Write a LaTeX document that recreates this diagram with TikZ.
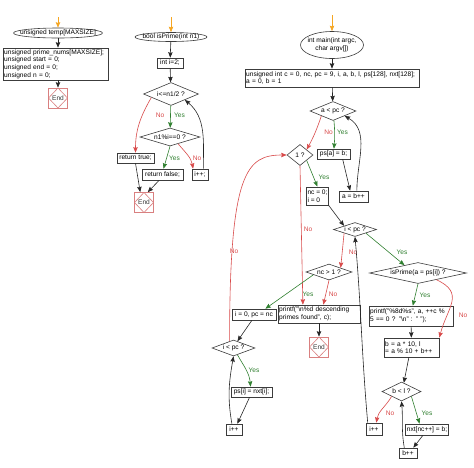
\documentclass[tikz,border=0pt]{standalone}
\usepackage{fontspec}
\setmainfont{Liberation Sans}
\usetikzlibrary{arrows.meta,shapes.geometric}
\definecolor{startor}{HTML}{F5A623}
\definecolor{edgegray}{HTML}{3C3C3C}
\definecolor{yesgreen}{HTML}{2F7F2F}
\definecolor{nored}{HTML}{D84A4A}
\definecolor{endred}{HTML}{D98080}
\newcommand{\flowfont}{\fontsize{6.6}{7.7}\selectfont}
\newcommand{\elltext}[1]{\makebox[0pt]{#1}}
\tikzset{
  procbox/.style={draw=edgegray, line width=0.6pt, fill=white, inner sep=1.2pt,
                  align=left, font=\flowfont, text=black},
  decbox/.style={diamond, draw=edgegray, line width=0.6pt, fill=white, aspect=3,
                 inner sep=0pt, font=\flowfont, text=black},
  startell/.style={ellipse, draw=edgegray, line width=0.6pt, fill=white,
                   inner sep=0pt, font=\flowfont, text=black},
  endbox/.style={draw=endred, line width=0.6pt, fill=white, minimum width=19pt,
                 minimum height=20pt, inner sep=0pt, font=\flowfont, text=black!80,
                 path picture={\draw[endred, line width=0.6pt]
                   (path picture bounding box.north) -- (path picture bounding box.east)
                   -- (path picture bounding box.south) -- (path picture bounding box.west) -- cycle;}},
  ylab/.style={font=\flowfont, text=yesgreen, inner sep=0.5pt},
  nlab/.style={font=\flowfont, text=nored, inner sep=0.5pt},
  arr/.style={-{Stealth[length=5.5pt,width=4.4pt,inset=0.8pt]}, line width=0.6pt, color=black!85},
  yarr/.style={arr, color=yesgreen},
  narr/.style={arr, color=nored},
  oarr/.style={arr, color=startor}}
\begin{document}
\begin{tikzpicture}[x=1pt, y=-1pt]
  \useasboundingbox (0,0) rectangle (474,467);
  \coordinate (s1) at (58,17);
  \node[startell, minimum width=89pt, minimum height=10pt] (e1) at (58,33) {\elltext{unsigned temp[MAXSIZE]}};
  \node[procbox, text width=102.6pt, minimum height=32pt] (b1) at (55.5,64)
    {unsigned prime\_nums[MAXSIZE];\\unsigned start = 0;\\unsigned end = 0;\\unsigned n = 0;};
  \node[endbox] (end1) at (58,98) {End};

  \coordinate (s2) at (171,17);
  \node[startell, minimum width=72pt, minimum height=9pt] (e2) at (171,37) {\elltext{bool isPrime(int n1)}};
  \node[procbox, minimum width=26pt, minimum height=10pt] (b2) at (170,63) {int i=2;};
  \node[decbox, minimum width=55pt, minimum height=23pt] (d1) at (171,94) {i<=n1/2 ?};
  \node[decbox, minimum width=60pt, minimum height=18pt] (d2) at (170,137) {n1\%i==0 ?};
  \node[procbox, minimum width=37pt, minimum height=10pt] (r1) at (135.5,158) {return true;};
  \node[procbox, minimum width=41pt, minimum height=11pt] (r2) at (162.5,174.5) {return false;};
  \node[procbox, minimum width=16pt, minimum height=11pt] (inc1) at (200,174.5) {i++;};
  \node[endbox] (end2) at (144,202.5) {End};

  \coordinate (s3) at (332,15);
  \node[startell, minimum width=63pt, minimum height=27pt] (e3) at (332,45)
    {\elltext{\begin{tabular}{@{}c@{}}int main(int argc,\\char argv[])\end{tabular}}};
  \node[procbox, text width=171.6pt, minimum height=18pt] (b3) at (332,78)
    {unsigned int c = 0, nc, pc = 9, i, a, b, l, ps[128], nxt[128];\\a = 0, b = 1};
  \node[decbox, minimum width=46pt, minimum height=19pt] (d3) at (333,111) {a < pc ?};
  \node[procbox, minimum width=33pt, minimum height=10pt] (b4) at (333.5,154) {ps[a] = b;};
  \node[procbox, minimum width=29pt, minimum height=11pt] (b5) at (353.5,196.5) {a = b++};
  \node[decbox, minimum width=26pt, minimum height=21pt] (d4) at (300,155) {1 ?};
  \node[procbox, inner xsep=0.8pt, minimum height=18pt] (b6) at (317.5,196) {nc = 0;\\i = 0};
  \node[decbox, minimum width=43pt, minimum height=14pt] (d5) at (355,229.5) {i < pc ?};
  \node[decbox, minimum width=46pt, minimum height=16pt] (d6) at (329,272) {nc > 1 ?};
  \node[procbox, text width=79.6pt, minimum height=18pt] (b7) at (319,314)
    {printf("\textbackslash n\%d descending\\primes found", c);};
  \node[endbox] (end3) at (319,347) {End};
  \node[procbox, minimum width=44pt, minimum height=11pt] (b8) at (254,314.5) {i = 0, pc = nc};
  \node[decbox, minimum width=43pt, minimum height=16pt] (d7) at (233.5,348) {i < pc ?};
  \node[procbox, minimum width=41pt, minimum height=10pt] (b9) at (251.5,392) {ps[i] = nxt[i];};
  \node[procbox, minimum width=16pt, minimum height=11pt] (b10) at (234,429.5) {i++};
  \node[decbox, aspect=5, minimum width=97pt, minimum height=21pt] (d8) at (418,273) {isPrime(a = ps[i]) ?};
  \node[procbox, text width=81.6pt, minimum height=20pt] (b11) at (411,316)
    {printf("\%8d\%s", a, ++c \%\\5 == 0 ? "\textbackslash n" : " ");};
  \node[procbox, text width=52.6pt, minimum height=19pt] (b12) at (411.5,347.5)
    {b = a * 10, l\\= a \% 10 + b++};
  \node[decbox, minimum width=39pt, minimum height=19pt] (d9) at (401.5,391.5) {b < l ?};
  \node[procbox, minimum width=16pt, minimum height=12pt] (b13) at (374,429) {i++};
  \node[procbox, minimum width=42pt, minimum height=11pt] (b14) at (427,429.5) {nxt[nc++] = b;};
  \node[procbox, minimum width=18pt, minimum height=10pt] (b15) at (408,453) {b++};

  \node[nlab] (no1) at (160,115) {No};
  \node[ylab] (yes1) at (179.5,115) {Yes};
  \node[ylab] (yes2) at (174.5,158) {Yes};
  \node[nlab] (no2) at (197,158) {No};
  \node[nlab] (no3) at (328.5,132) {No};
  \node[ylab] (yes3) at (342.5,132) {Yes};
  \node[ylab] (yes4) at (324,177) {Yes};
  \node[nlab] (no4) at (308,229) {No};
  \node[nlab] (no5) at (353,252) {No};
  \node[ylab] (yes5) at (402,252) {Yes};
  \node[ylab] (yes6) at (308,294) {Yes};
  \node[nlab] (no6) at (333,294) {No};
  \node[nlab] (no7) at (234,251) {No};
  \node[ylab] (yes7) at (254,370) {Yes};
  \node[ylab] (yes8) at (425,295) {Yes};
  \node[nlab] (no8) at (463,315) {No};
  \node[nlab] (no9) at (390,413) {No};
  \node[ylab] (yes9) at (427,413) {Yes};

  \draw[oarr] (s1) -- (e1);
  \draw[arr] (e1) -- (e1 |- b1.north);
  \draw[arr] (b1.south -| end1) -- (end1);
  \draw[oarr] (s2) -- (e2);
  \draw[arr] (e2) -- (b2);
  \draw[arr] (b2) -- (d1);
  \draw[yarr] (d1) -- (d2);
  \draw[narr] (d1.190) to[out=240,in=90] (r1.north);
  \draw[yarr] (d2.south) -- (r2.80);
  \draw[narr] (d2.-40) to[out=-50,in=100] (inc1.140);
  \draw[arr] (inc1.60) to[out=90,in=-40] (d1.south east);
  \draw[arr] (r1.south) -- (end2.110);
  \draw[arr] (r2.240) -- (end2.70);

  \draw[oarr] (s3) -- (e3);
  \draw[arr] (e3) -- (e3 |- b3.north);
  \draw[arr] (b3) -- (d3);
  \draw[yarr] (d3) to[bend left=5] (b4);
  \draw[narr] (d3.south west) to[bend left=5] (d4.north east);
  \draw[arr] (b4.330) -- (b5.120);
  \draw[arr] (b5.60) to[out=90,in=-30] (d3.south east);
  \draw[yarr] (d4.south east) -- (b6.north);
  \draw[narr] (d4.south) -- (b7.150);
  \draw[arr] (b6.south east) -- (d5.north west);
  \draw[narr] (d5.south west) -- (d6.north east);
  \draw[yarr] (d5.south east) -- (d8.150);
  \draw[yarr] (d6.190) -- (b8.27);
  \draw[narr] (d6.south) -- (b7.65);
  \draw[arr] (b7) -- (end3);
  \draw[arr] (b8.250) -- (d7.60);
  \draw[narr] (d7.120) .. controls +(0,-170) and +(-40,0) .. (d4.west);
  \draw[yarr] (d7.-60) to[out=-60,in=95] (b9.100);
  \draw[arr] (b9.250) -- (b10.60);
  \draw[arr] (b10.110) to[out=100,in=-100] (d7.south);
  \draw[yarr] (d8.south) -- (b11.80);
  \draw[narr] (d8.-20) to[out=-25,in=75,looseness=1.4] (b12.north east);
  \draw[arr] (b11) -- (b12);
  \draw[arr] (b12.255) -- (d9.75);
  \draw[narr] (d9.south west) to[out=-120,in=80] (b13.70);
  \draw[yarr] (d9.south east) -- (b14.142);
  \draw[arr] (b14.235) -- (b15.45);
  \draw[arr] (b15.125) to[out=100,in=-85] (d9.south);
  \draw[arr] (b13.135) to[out=95,in=-85] (d5.south);
\end{tikzpicture}
\end{document}
